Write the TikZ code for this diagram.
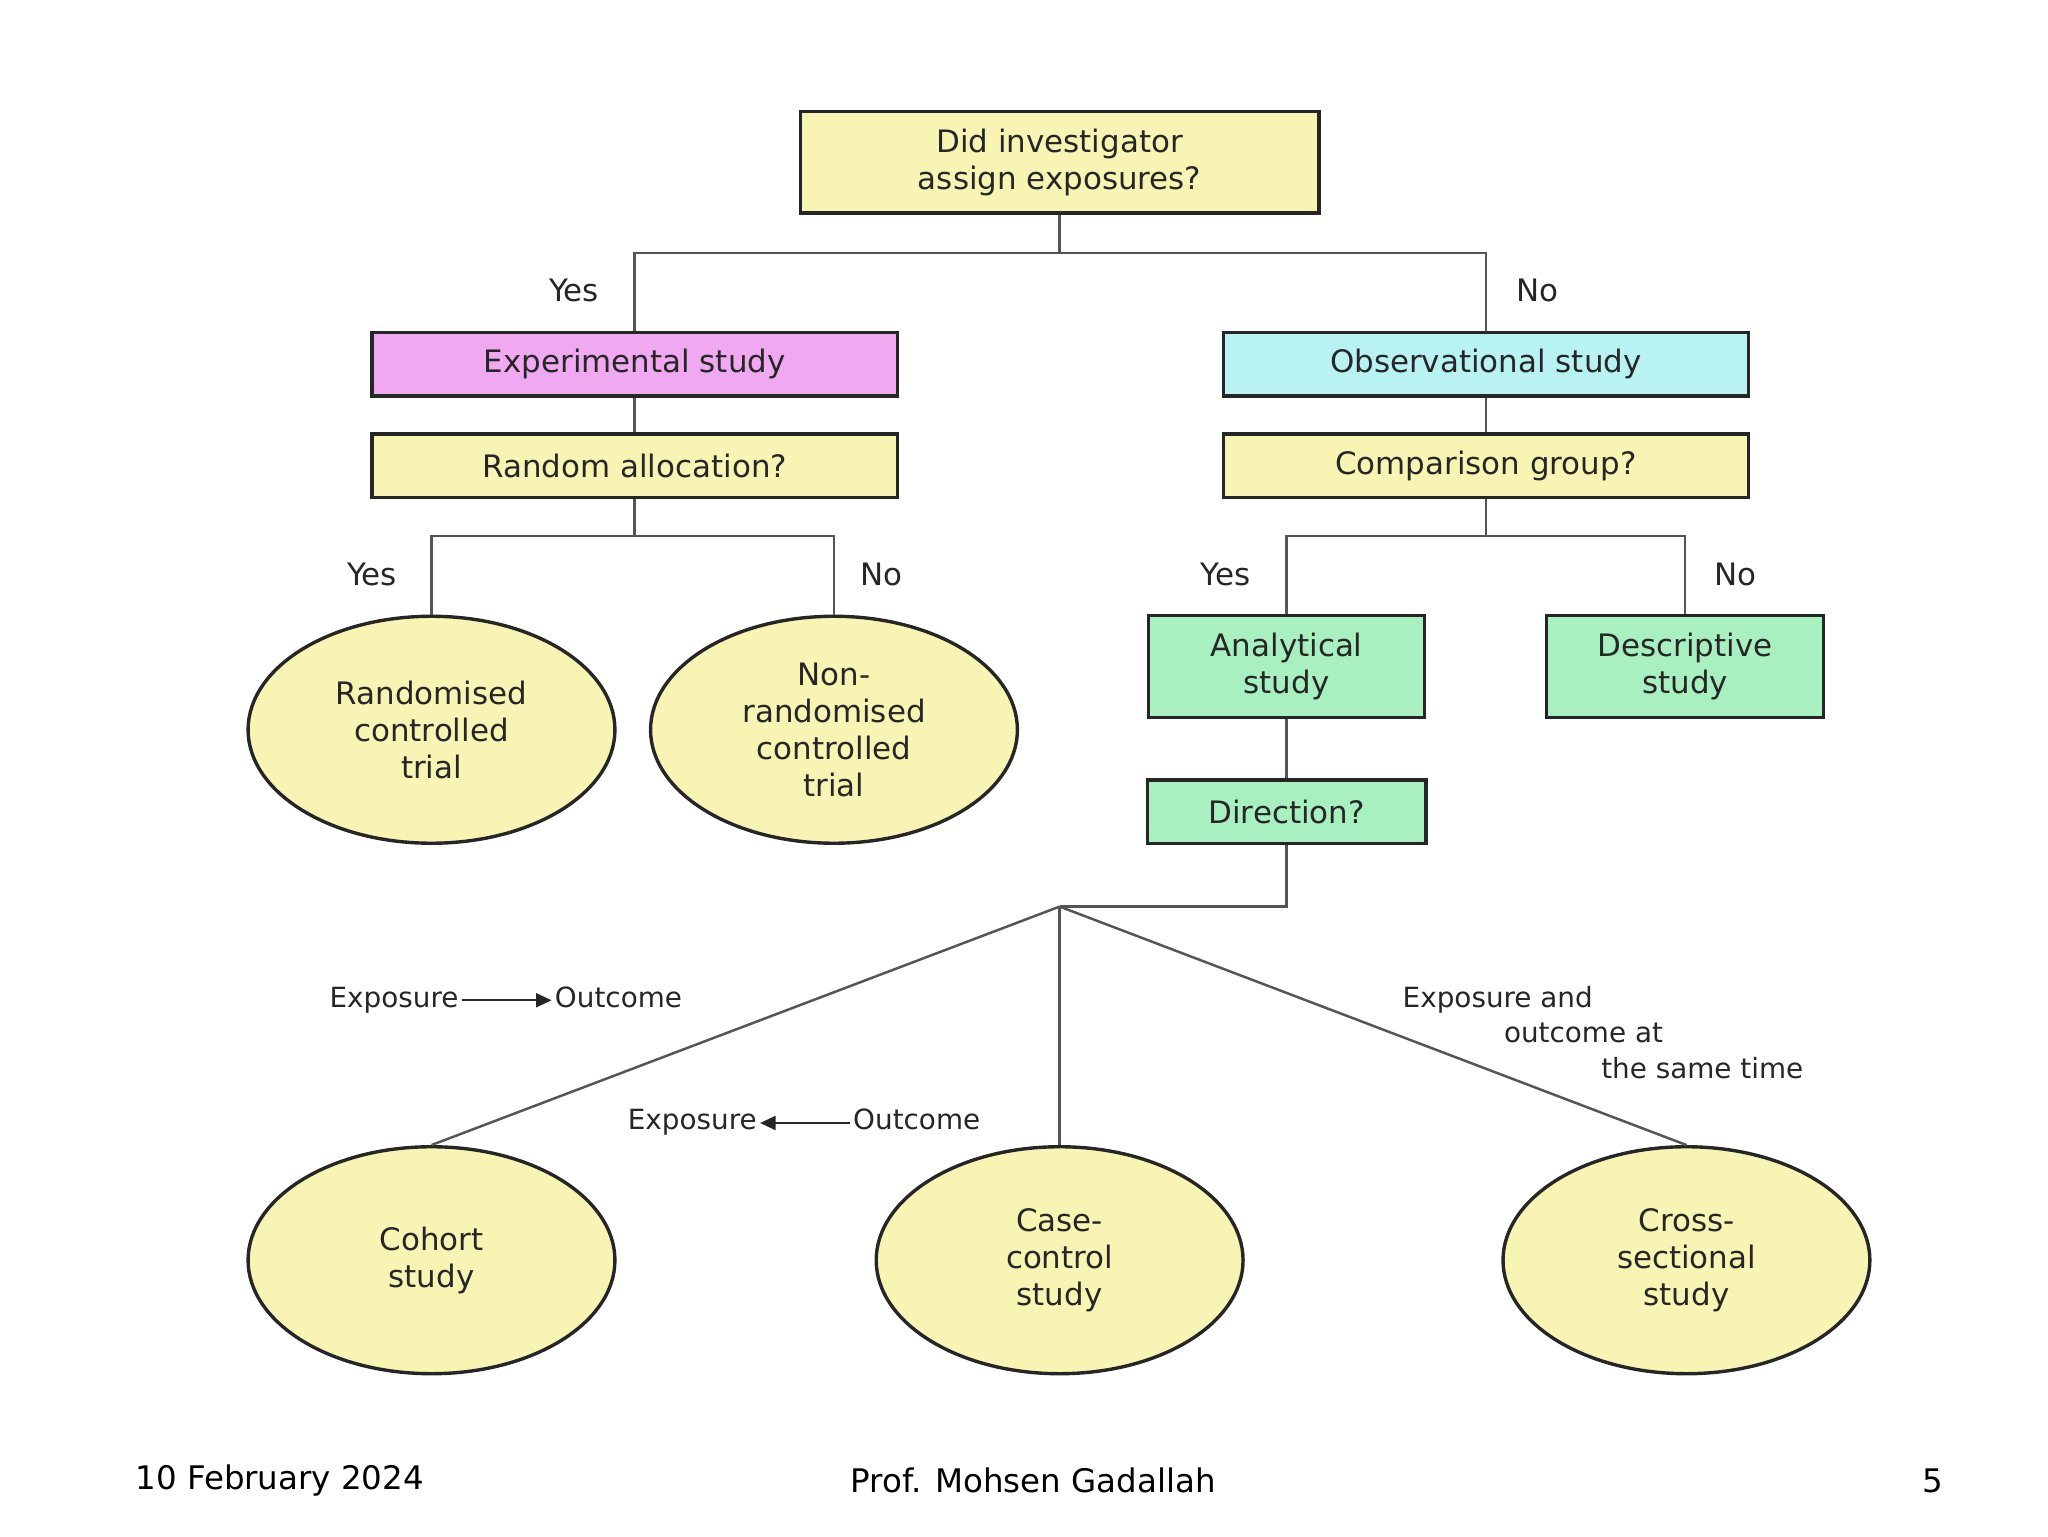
\documentclass[tikz,border=0pt]{standalone}
\usepackage{fontspec}
\setmainfont{DejaVu Sans}
\usetikzlibrary{shapes.geometric,arrows.meta}
\definecolor{yel}{HTML}{F8F4B4}
\definecolor{pnk}{HTML}{F0A8F0}
\definecolor{cyn}{HTML}{B8F2F2}
\definecolor{grn}{HTML}{A8F0C0}
\definecolor{ln}{HTML}{555555}
\begin{document}
\begin{tikzpicture}[x=0.03cm,y=-0.03cm,
  box/.style={draw=black!85,line width=2.2pt,minimum height=48*0.03cm,inner sep=2pt,font=\fontsize{20}{24}\selectfont,align=center,text=black!85},
  circ/.style={ellipse,draw=black!85,line width=2.2pt,fill=yel,minimum width=278*0.03cm,minimum height=172*0.03cm,font=\fontsize{20}{24}\selectfont,align=center,text=black!85},
  con/.style={ln,line width=1.6pt},
  lab/.style={font=\fontsize{20}{24}\selectfont,text=black!85},
  sm/.style={font=\fontsize{18}{21}\selectfont,text=black!85,text height=13pt,text depth=4pt,inner sep=2pt}]
\useasboundingbox (0,0) rectangle (1552,1164);
\node[box,fill=yel,minimum width=393*0.03cm,minimum height=77*0.03cm] (top) at (803,123) {Did investigator\\assign exposures?};
\node[box,fill=pnk,minimum width=398*0.03cm] (exp) at (481,276) {Experimental study};
\node[box,fill=cyn,minimum width=398*0.03cm] (obs) at (1126,276) {Observational study};
\node[box,fill=yel,minimum width=398*0.03cm] (ran) at (481,353) {Random allocation?};
\node[box,fill=yel,minimum width=398*0.03cm] (cmp) at (1126,353) {Comparison group?};
\node[circ] (rct) at (327,553) {Randomised\\controlled\\trial};
\node[circ] (nrct) at (632,553) {Non-\\randomised\\controlled\\trial};
\node[box,fill=grn,minimum width=209*0.03cm,minimum height=77*0.03cm] (ana) at (975,505) {Analytical\\study};
\node[box,fill=grn,minimum width=210*0.03cm,minimum height=77*0.03cm] (des) at (1277,505) {Descriptive\\study};
\node[box,fill=grn,minimum width=211*0.03cm] (dir) at (975,615) {Direction?};
\node[circ] (coh) at (327,955) {Cohort\\study};
\node[circ] (cc) at (803,955) {Case-\\control\\study};
\node[circ] (cs) at (1278,955) {Cross-\\sectional\\study};
\coordinate (j) at (803,687);
\draw[con] (top.south) -- ++(0,29) coordinate (t1) -| (exp.north);
\draw[con] (t1) -| (obs.north);
\draw[con] (exp) -- (ran);
\draw[con] (obs) -- (cmp);
\draw[con] (ran.south) -- ++(0,28) coordinate (r1) -| (rct.north);
\draw[con] (r1) -| (nrct.north);
\draw[con] (cmp.south) -- ++(0,28) coordinate (c1) -| (ana.north);
\draw[con] (c1) -| (des.north);
\draw[con] (ana) -- (dir);
\draw[con] (dir.south) |- (j);
\draw[con] (j) -- (coh.north);
\draw[con] (j) -- (cc.north);
\draw[con] (j) -- (cs.north);
\node[lab] at (435,220) {Yes};
\node[lab] at (1165,220) {No};
\node[lab] at (282,435) {Yes};
\node[lab] at (668,435) {No};
\node[lab] at (929,435) {Yes};
\node[lab] at (1315,435) {No};
\node[sm,anchor=east] (e1) at (350,758) {Exposure};
\node[sm,anchor=west] (o1) at (418,758) {Outcome};
\draw[black!85,line width=1.4pt,-{Triangle[length=10pt,width=9pt]}] (e1.east) -- (o1.west);
\node[sm,anchor=east] (e2) at (576,851) {Exposure};
\node[sm,anchor=west] (o2) at (644,851) {Outcome};
\draw[black!85,line width=1.4pt,-{Triangle[length=10pt,width=9pt]}] (o2.west) -- (e2.east);
\node[sm] at (1135,758) {Exposure and};
\node[sm] at (1200,785) {outcome at};
\node[sm] at (1290,812) {the same time};
\node[font=\fontsize{21}{25}\selectfont] at (212,1122) {10 February 2024};
\node[font=\fontsize{21}{25}\selectfont] at (783,1122) {Prof. Mohsen Gadallah};
\node[font=\fontsize{21}{25}\selectfont] at (1465,1122) {5};
\end{tikzpicture}
\end{document}
